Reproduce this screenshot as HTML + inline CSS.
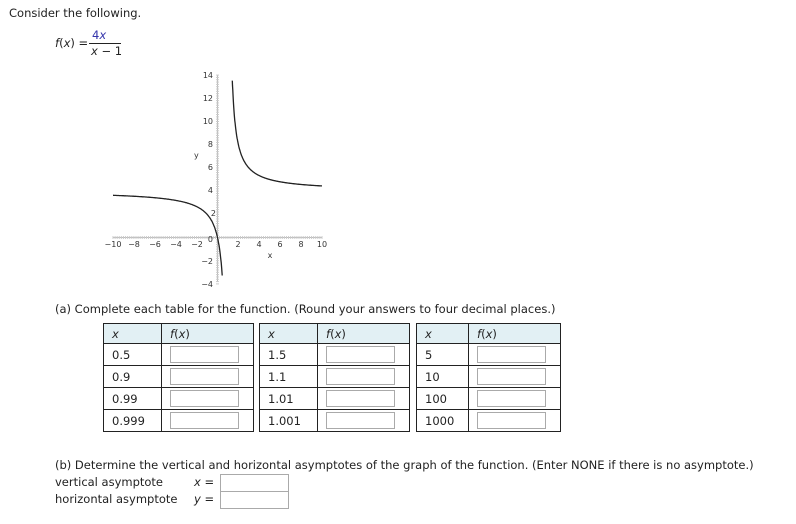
<!DOCTYPE html>
<html><head><meta charset="utf-8"><style>
body{margin:0;width:796px;height:524px;background:#fff;position:relative;font-family:"DejaVu Sans","Liberation Sans",sans-serif;font-size:11.5px;color:#222;overflow:hidden}
.a{position:absolute;white-space:nowrap}
table{position:absolute;border-collapse:collapse;font-size:11.5px}
td{border:1px solid #222;height:21px;padding:0 0 0 8px}
tr:first-child td{background:#e2f0f4;height:19px}
.in{display:block;width:67px;height:15px;border:1px solid #aaa;background:#fff}
.box{position:absolute;width:67px;height:16px;border:1px solid #aaa;background:#fff}
i{font-style:italic}
</style></head><body>
<div class="a" style="left:9px;top:6px">Consider the following.</div>
<div class="a" style="left:55px;top:36px"><i>f</i>(<i>x</i>) =</div>
<div class="a" style="left:92px;top:28px;color:#3333aa">4<i>x</i></div>
<div style="position:absolute;left:89px;top:43px;width:32px;border-top:1px solid #222"></div>
<div class="a" style="left:91px;top:44px"><i>x</i> − 1</div>

<svg style="position:absolute;left:0;top:0" width="796" height="300" font-family="DejaVu Sans,sans-serif" font-size="8" fill="#333">
<g stroke="#bbb" stroke-width="1">
<line x1="113" y1="237.5" x2="322" y2="237.5"/>
<line x1="217.5" y1="75" x2="217.5" y2="282"/>
</g>
<g id="ticks" stroke="#ccc"></g>
<g text-anchor="middle">
<text x="113" y="247">−10</text><text x="134" y="247">−8</text><text x="155" y="247">−6</text><text x="176" y="247">−4</text><text x="197" y="247">−2</text>
<text x="238" y="247">2</text><text x="259" y="247">4</text><text x="280" y="247">6</text><text x="301" y="247">8</text><text x="322" y="247">10</text>
<text x="270" y="258">x</text>
</g>
<g text-anchor="end">
<text x="213" y="78">14</text><text x="213" y="101">12</text><text x="213" y="124">10</text><text x="213" y="147">8</text><text x="213" y="170">6</text><text x="213" y="193">4</text><text x="216" y="216">2</text><text x="213" y="242">0</text><text x="213" y="264">−2</text><text x="213" y="287">−4</text>
</g>
<text x="194" y="158">y</text>
<path id="c1" fill="none" stroke="#222" stroke-width="1.3"/>
<path id="c2" fill="none" stroke="#222" stroke-width="1.3"/>
</svg>
<script>
var X=function(x){return 217.5+x*10.45},Y=function(y){return 237.5-y*11.6};
var d="";for(var x=-10;x<=0.5;x+=0.05){var y=4*x/(x-1);if(y<-4)break;d+=(d?"L":"M")+X(x).toFixed(1)+","+Y(y).toFixed(1);}
document.getElementById("c1").setAttribute("d",d);
d="";for(var x=1.4;x<=10.001;x+=0.02){var y=4*x/(x-1);if(y>14)continue;d+=(d?"L":"M")+X(x).toFixed(1)+","+Y(y).toFixed(1);}
document.getElementById("c2").setAttribute("d",d);
var t="";for(var i=-50;i<=50;i++){var px=X(i*0.2);t+='<line x1="'+px+'" y1="236" x2="'+px+'" y2="239"/>';}
for(var j=-20;j<=70;j++){var py=Y(j*0.2);t+='<line x1="216" y1="'+py+'" x2="219" y2="'+py+'"/>';}
document.getElementById("ticks").innerHTML=t;
</script>

<div class="a" style="left:55px;top:302px">(a) Complete each table for the function. (Round your answers to four decimal places.)</div>

<table style="left:103px;top:323px;width:151px"><tr><td style="width:49px"><i>x</i></td><td><i>f</i>(<i>x</i>)</td></tr>
<tr><td>0.5</td><td><span class="in"></span></td></tr><tr><td>0.9</td><td><span class="in"></span></td></tr><tr><td>0.99</td><td><span class="in"></span></td></tr><tr><td>0.999</td><td><span class="in"></span></td></tr></table>
<table style="left:259px;top:323px;width:151px"><tr><td style="width:49px"><i>x</i></td><td><i>f</i>(<i>x</i>)</td></tr>
<tr><td>1.5</td><td><span class="in"></span></td></tr><tr><td>1.1</td><td><span class="in"></span></td></tr><tr><td>1.01</td><td><span class="in"></span></td></tr><tr><td>1.001</td><td><span class="in"></span></td></tr></table>
<table style="left:416px;top:323px;width:145px"><tr><td style="width:43px"><i>x</i></td><td><i>f</i>(<i>x</i>)</td></tr>
<tr><td>5</td><td><span class="in"></span></td></tr><tr><td>10</td><td><span class="in"></span></td></tr><tr><td>100</td><td><span class="in"></span></td></tr><tr><td>1000</td><td><span class="in"></span></td></tr></table>

<div class="a" style="left:55px;top:458px">(b) Determine the vertical and horizontal asymptotes of the graph of the function. (Enter NONE if there is no asymptote.)</div>
<div class="a" style="left:55px;top:475px">vertical asymptote</div>
<div class="a" style="left:194px;top:475px"><i>x</i> =</div>
<div class="box" style="left:220px;top:474px"></div>
<div class="a" style="left:55px;top:492px">horizontal asymptote</div>
<div class="a" style="left:194px;top:492px"><i>y</i> =</div>
<div class="box" style="left:220px;top:491px"></div>
</body></html>
